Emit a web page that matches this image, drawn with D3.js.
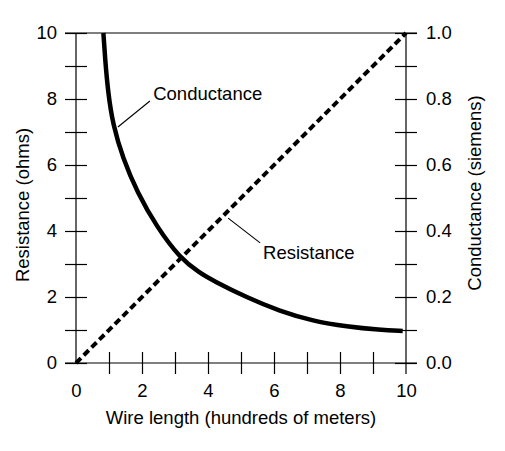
<!DOCTYPE html>
<html>
<head>
<meta charset="utf-8">
<script src="https://cdn.jsdelivr.net/npm/d3@7"></script>
<style>
  body { margin: 0; background: #fff; }
  svg { font-family: "Liberation Sans", Arial, sans-serif; }
  .axis text { font-size: 18.5px; fill: #000; }
  .axis path { display: none; }
  .axis line { stroke: #000; stroke-width: 1.2; }
</style>
</head>
<body>
<svg id="chart" width="505" height="451"></svg>
<script>
const width = 505, height = 451

// wire length, hundreds of meters
const lengths = [0, 10]
// resistance, ohms
const resistance = [0, 10]
// conductance curve (siemens)
const cond_length = [0.83, 0.88, 0.97, 1.12, 1.42, 1.85, 2.45, 3.15, 3.76, 4.15, 5.18, 6.18, 7.18, 8.21, 9.21, 9.9]
const conductance = [1.0, 0.924, 0.821, 0.721, 0.621, 0.518, 0.412, 0.318, 0.272, 0.25, 0.198, 0.157, 0.127, 0.11, 0.1, 0.097]

const x_ticks = d3.range(0, 11, 1)
const r_ticks = d3.range(0, 11, 1)
const g_ticks = d3.range(0, 11, 1).map(d => d / 10)

// callouts: [label, text x, text y, leader from x, from y, to x, to y] in length / ohms units
const callouts = [
    ["Conductance", 2.34, 7.97, 2.24, 7.94, 1.27, 7.15],
    ["Resistance", 5.67, 3.15, 5.58, 3.64, 4.61, 4.39]
]

const svg = d3.select("#chart")

const x = d3.scaleLinear().domain([0, 10]).range([76, 406])
const yR = d3.scaleLinear().domain([0, 10]).range([363, 33])
const yG = d3.scaleLinear().domain([0, 1]).range([363, 33])
const tick = 11

// frame lines: top and bottom run past the side axes
svg.append("line")
    .attr("x1", x(0) - tick).attr("x2", x(10) + tick)
    .attr("y1", yR(10)).attr("y2", yR(10))
    .attr("stroke", "#000").attr("stroke-width", 1.2)
svg.append("line")
    .attr("x1", x(0) - tick).attr("x2", x(10) + tick)
    .attr("y1", yR(0)).attr("y2", yR(0))
    .attr("stroke", "#000").attr("stroke-width", 1.2)
svg.append("line")
    .attr("x1", x(0)).attr("x2", x(0))
    .attr("y1", yR(10)).attr("y2", yR(0))
    .attr("stroke", "#000").attr("stroke-width", 1.2)
svg.append("line")
    .attr("x1", x(10)).attr("x2", x(10))
    .attr("y1", yR(10)).attr("y2", yR(0) + tick)
    .attr("stroke", "#000").attr("stroke-width", 1.2)

// left axis
const left = svg.append("g").attr("class", "axis")
    .attr("transform", `translate(${x(0)},0)`)
    .call(d3.axisLeft(yR).tickValues(r_ticks).tickSize(tick).tickPadding(8)
        .tickFormat(d => d % 2 ? "" : d))
left.selectAll(".tick line").attr("x2", -tick).attr("x1", tick)

// right axis
const right = svg.append("g").attr("class", "axis")
    .attr("transform", `translate(${x(10)},0)`)
    .call(d3.axisRight(yG).tickValues(g_ticks).tickSize(tick).tickPadding(9)
        .tickFormat(d => Math.round(d * 10) % 2 ? "" : d3.format(".1f")(d)))
right.selectAll(".tick line").attr("x2", tick).attr("x1", -tick)

// bottom axis
const bottom = svg.append("g").attr("class", "axis")
    .attr("transform", `translate(0,${yR(0)})`)
    .call(d3.axisBottom(x).tickValues(x_ticks).tickSize(tick).tickPadding(10)
        .tickFormat(d => d % 2 ? "" : d))
bottom.selectAll(".tick line").attr("y1", -tick).attr("y2", tick)
    .style("display", d => (d === 0 || d === 10) ? "none" : null)

// resistance line (dashed)
svg.append("path")
    .datum(lengths.map((d, i) => [d, resistance[i]]))
    .attr("d", d3.line().x(d => x(d[0])).y(d => yR(d[1])))
    .attr("fill", "none")
    .attr("stroke", "#000")
    .attr("stroke-width", 4)
    .attr("stroke-dasharray", "7,4")

// conductance curve
svg.append("path")
    .datum(cond_length.map((d, i) => [d, conductance[i]]))
    .attr("d", d3.line().x(d => x(d[0])).y(d => yG(d[1])).curve(d3.curveBasis))
    .attr("fill", "none")
    .attr("stroke", "#000")
    .attr("stroke-width", 4.5)

// callouts
callouts.forEach(c => {
    svg.append("line")
        .attr("x1", x(c[3])).attr("y1", yR(c[4]))
        .attr("x2", x(c[5])).attr("y2", yR(c[6]))
        .attr("stroke", "#000").attr("stroke-width", 1.1)
    svg.append("text")
        .attr("x", x(c[1])).attr("y", yR(c[2]))
        .style("font-size", "18.5px")
        .text(c[0])
})

// axis titles
svg.append("text")
    .attr("transform", `translate(29,${(yR(0) + yR(10)) / 2 + 7}) rotate(-90)`)
    .attr("text-anchor", "middle")
    .style("font-size", "18.5px")
    .text("Resistance (ohms)")
svg.append("text")
    .attr("transform", `translate(481,${(yR(0) + yR(10)) / 2 - 5}) rotate(-90)`)
    .attr("text-anchor", "middle")
    .style("font-size", "18.5px")
    .text("Conductance (siemens)")
svg.append("text")
    .attr("x", (x(0) + x(10)) / 2).attr("y", 424)
    .attr("text-anchor", "middle")
    .style("font-size", "18.5px")
    .text("Wire length (hundreds of meters)")
</script>
</body>
</html>
